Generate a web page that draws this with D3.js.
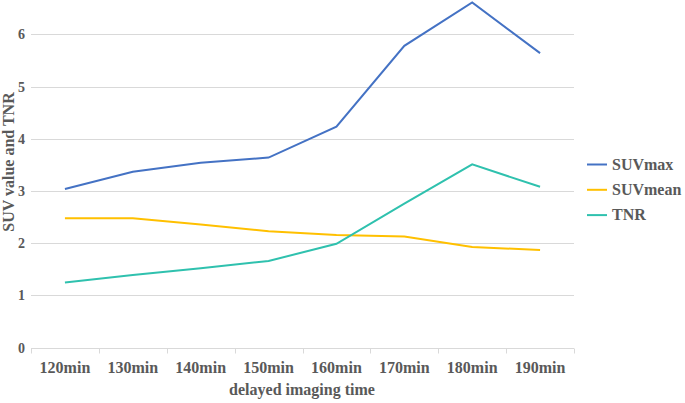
<!DOCTYPE html>
<html lang="en">
<head>
    <meta charset="UTF-8">
    <title>SUV value and TNR by delayed imaging time</title>
    <style>
        body { margin: 0; background: #fff; }
        text { font-family: "Liberation Serif", "Times New Roman", serif; font-weight: bold; fill: #595959; }
        .grid line { stroke: #d9d9d9; stroke-width: 1px; }
        .line { fill: none; stroke-width: 2px; }
    </style>
</head>
<body>
    <svg width="685" height="403"></svg>

    <script src="https://d3js.org/d3.v7.min.js"></script>
    <script>
        const width = 685, height = 403;

        const categories = ["120min", "130min", "140min", "150min", "160min", "170min", "180min", "190min"];
        const suvMax = [3.04, 3.37, 3.54, 3.64, 4.23, 5.78, 6.61, 5.64];
        const suvMean = [2.48, 2.48, 2.36, 2.23, 2.16, 2.13, 1.93, 1.87];
        const tnr = [1.25, 1.39, 1.52, 1.66, 1.99, 2.76, 3.51, 3.08];
        const yTicks = [0, 1, 2, 3, 4, 5, 6];

        const series = [
            { name: "SUVmax", values: suvMax, color: "#4472C4" },
            { name: "SUVmean", values: suvMean, color: "#FFC000" },
            { name: "TNR", values: tnr, color: "#2FC1AE" }
        ];

        const svg = d3.select("svg");

        const x = d3.scaleBand()
            .domain(categories)
            .range([31, 574]);

        const y = d3.scaleLinear()
            .domain([0, 6])
            .range([347.7, 34.3]);

        // horizontal gridlines
        svg.append("g")
            .attr("class", "grid")
            .selectAll("line")
            .data(yTicks.filter(d => d > 0))
            .enter().append("line")
            .attr("x1", 31)
            .attr("x2", 574)
            .attr("y1", d => Math.round(y(d)) + 0.5)
            .attr("y2", d => Math.round(y(d)) + 0.5);

        // y tick labels
        svg.append("g")
            .selectAll("text")
            .data(yTicks)
            .enter().append("text")
            .attr("x", 25)
            .attr("y", d => y(d) + 5)
            .attr("text-anchor", "end")
            .style("font-size", "14px")
            .text(d => d);

        // x axis
        const xAxis = svg.append("g")
            .attr("transform", `translate(0,${Math.round(y(0)) + 0.5})`)
            .call(d3.axisBottom(x).tickSizeOuter(0).tickSizeInner(0).tickPadding(13));
        xAxis.select(".domain").attr("stroke", "#d9d9d9").attr("d", "M31,0H574");
        xAxis.selectAll("text")
            .style("font-size", "16px")
            .attr("fill", "#595959")
            .style("font-family", "'Liberation Serif', serif");

        // x tick marks at band edges
        const edges = categories.map(c => x(c)).concat([x.range()[1]]);
        xAxis.selectAll(".edge")
            .data(edges)
            .enter().append("line")
            .attr("class", "edge")
            .attr("x1", d => Math.round(d) + 0.5)
            .attr("x2", d => Math.round(d) + 0.5)
            .attr("y1", 0)
            .attr("y2", 5)
            .attr("stroke", "#d9d9d9");

        // lines
        const line = d3.line()
            .x((d, i) => x(categories[i]) + x.bandwidth() / 2)
            .y(d => y(d));

        svg.selectAll(".line")
            .data(series)
            .enter().append("path")
            .attr("class", "line")
            .attr("stroke", d => d.color)
            .attr("d", d => line(d.values));

        // axis titles
        svg.append("text")
            .attr("transform", "translate(14,162) rotate(-90)")
            .attr("text-anchor", "middle")
            .style("font-size", "16px")
            .text("SUV value and TNR");

        svg.append("text")
            .attr("x", 302)
            .attr("y", 395)
            .attr("text-anchor", "middle")
            .style("font-size", "16px")
            .text("delayed imaging time");

        // legend
        const legend = svg.append("g")
            .selectAll("g")
            .data(series)
            .enter().append("g")
            .attr("transform", (d, i) => `translate(587,${164.5 + i * 25.3})`);

        legend.append("line")
            .attr("x1", 0)
            .attr("x2", 20)
            .attr("stroke", d => d.color)
            .attr("stroke-width", 2);

        legend.append("text")
            .attr("x", 25)
            .attr("y", 5)
            .style("font-size", "16px")
            .text(d => d.name);
    </script>
</body>
</html>
